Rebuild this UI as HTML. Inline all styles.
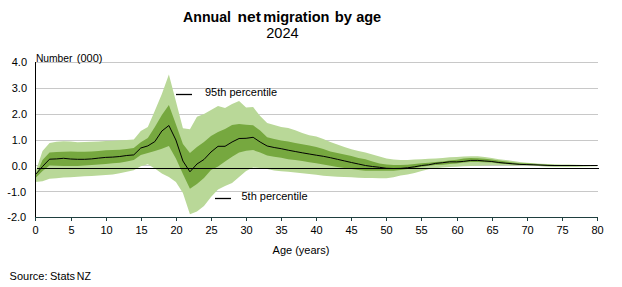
<!DOCTYPE html>
<html><head><meta charset="utf-8"><style>
html,body{margin:0;padding:0;background:#fff;}
body{width:622px;height:287px;overflow:hidden;}
svg{display:block;}
text{font-family:"Liberation Sans",sans-serif;fill:#000;}
</style></head><body>
<svg width="622" height="287" viewBox="0 0 622 287">
<rect width="622" height="287" fill="#fff"/>
<g><line x1="35" y1="62.5" x2="598" y2="62.5" stroke="#c8c8c8" stroke-width="1"/>
<line x1="35" y1="88.5" x2="598" y2="88.5" stroke="#c8c8c8" stroke-width="1"/>
<line x1="35" y1="114.5" x2="598" y2="114.5" stroke="#c8c8c8" stroke-width="1"/>
<line x1="35" y1="140.5" x2="598" y2="140.5" stroke="#c8c8c8" stroke-width="1"/>
<line x1="35" y1="165.5" x2="598" y2="165.5" stroke="#c8c8c8" stroke-width="1"/>
<line x1="35" y1="191.5" x2="598" y2="191.5" stroke="#c8c8c8" stroke-width="1"/>
</g>
<path d="M35.50,172.00 L42.52,151.00 L49.54,143.00 L56.56,141.70 L63.58,141.30 L70.60,141.50 L77.62,142.20 L84.64,142.00 L91.66,141.70 L98.68,141.40 L105.70,141.00 L112.72,140.70 L119.74,140.30 L126.76,139.90 L133.78,139.50 L140.80,131.10 L147.82,127.10 L154.84,110.70 L161.86,94.00 L168.88,74.60 L175.90,101.30 L182.92,128.20 L189.94,129.30 L196.96,116.80 L203.98,114.00 L211.00,110.00 L218.02,106.00 L225.04,108.00 L232.06,104.00 L239.08,101.00 L246.10,107.50 L253.12,107.00 L260.14,116.00 L267.16,123.00 L274.18,125.00 L281.20,127.00 L288.22,128.00 L295.24,130.20 L302.26,133.00 L309.28,135.30 L316.30,136.50 L323.32,139.00 L330.34,142.00 L337.36,144.50 L344.38,147.00 L351.40,149.30 L358.42,151.00 L365.44,152.50 L372.46,154.50 L379.48,156.50 L386.50,158.50 L393.52,159.50 L400.54,160.00 L407.56,160.00 L414.58,159.50 L421.60,159.20 L428.62,158.80 L435.64,158.40 L442.66,158.00 L449.68,157.30 L456.70,157.00 L463.72,156.50 L470.74,156.20 L477.76,156.30 L484.78,157.00 L491.80,158.00 L498.82,159.30 L505.84,160.00 L512.86,161.00 L519.88,162.00 L526.90,162.80 L533.92,163.30 L540.94,163.80 L547.96,164.00 L554.98,164.20 L562.00,164.40 L569.02,164.60 L576.04,164.80 L583.06,165.00 L590.08,165.10 L597.10,165.20 L597.10,166.20 L590.08,166.60 L583.06,166.80 L576.04,166.90 L569.02,166.90 L562.00,166.90 L554.98,166.90 L547.96,166.70 L540.94,166.30 L533.92,165.60 L526.90,165.60 L519.88,165.50 L512.86,165.40 L505.84,165.30 L498.82,165.30 L491.80,165.30 L484.78,165.50 L477.76,165.70 L470.74,166.00 L463.72,166.30 L456.70,166.80 L449.68,167.10 L442.66,167.50 L435.64,168.20 L428.62,169.30 L421.60,171.00 L414.58,173.00 L407.56,174.50 L400.54,175.50 L393.52,177.20 L386.50,178.30 L379.48,178.20 L372.46,178.00 L365.44,178.00 L358.42,177.80 L351.40,177.30 L344.38,177.00 L337.36,176.70 L330.34,176.20 L323.32,175.70 L316.30,174.80 L309.28,173.90 L302.26,173.20 L295.24,172.60 L288.22,171.80 L281.20,171.30 L274.18,170.50 L267.16,169.00 L260.14,168.00 L253.12,167.50 L246.10,171.00 L239.08,177.00 L232.06,183.00 L225.04,186.00 L218.02,189.50 L211.00,197.00 L203.98,206.00 L196.96,211.50 L189.94,214.20 L182.92,193.00 L175.90,182.00 L168.88,177.00 L161.86,173.50 L154.84,168.50 L147.82,164.20 L140.80,166.30 L133.78,170.20 L126.76,171.80 L119.74,173.20 L112.72,174.50 L105.70,175.00 L98.68,175.50 L91.66,175.90 L84.64,176.30 L77.62,176.70 L70.60,177.20 L63.58,177.60 L56.56,178.20 L49.54,178.80 L42.52,181.30 L35.50,182.00 Z" fill="#b9d898"/>
<path d="M35.50,176.00 L42.52,160.00 L49.54,152.40 L56.56,152.10 L63.58,151.70 L70.60,151.40 L77.62,151.70 L84.64,151.70 L91.66,151.50 L98.68,151.00 L105.70,150.30 L112.72,150.00 L119.74,149.80 L126.76,149.10 L133.78,148.00 L140.80,142.30 L147.82,138.00 L154.84,127.10 L161.86,115.00 L168.88,105.00 L175.90,124.30 L182.92,144.00 L189.94,153.00 L196.96,147.00 L203.98,142.00 L211.00,136.00 L218.02,132.00 L225.04,129.00 L232.06,125.00 L239.08,124.00 L246.10,124.70 L253.12,125.30 L260.14,130.50 L267.16,137.30 L274.18,139.00 L281.20,140.50 L288.22,141.50 L295.24,143.00 L302.26,144.20 L309.28,145.50 L316.30,147.00 L323.32,149.00 L330.34,151.50 L337.36,153.00 L344.38,154.50 L351.40,156.00 L358.42,158.00 L365.44,159.30 L372.46,161.50 L379.48,163.50 L386.50,164.50 L393.52,165.00 L400.54,165.00 L407.56,164.70 L414.58,164.00 L421.60,163.20 L428.62,162.80 L435.64,162.00 L442.66,161.50 L449.68,160.50 L456.70,159.70 L463.72,158.50 L470.74,158.00 L477.76,158.20 L484.78,158.80 L491.80,159.50 L498.82,160.50 L505.84,161.50 L512.86,162.50 L519.88,163.30 L526.90,163.30 L533.92,163.80 L540.94,164.20 L547.96,164.80 L554.98,165.00 L562.00,165.10 L569.02,165.10 L576.04,165.10 L583.06,165.10 L590.08,165.10 L597.10,165.10 L597.10,165.90 L590.08,165.90 L583.06,165.90 L576.04,165.90 L569.02,165.90 L562.00,165.90 L554.98,165.90 L547.96,165.90 L540.94,165.40 L533.92,165.20 L526.90,165.00 L519.88,164.80 L512.86,164.50 L505.84,164.00 L498.82,163.40 L491.80,162.60 L484.78,162.30 L477.76,162.00 L470.74,162.00 L463.72,162.50 L456.70,163.50 L449.68,164.00 L442.66,164.70 L435.64,165.00 L428.62,165.80 L421.60,166.80 L414.58,168.00 L407.56,169.00 L400.54,170.00 L393.52,170.70 L386.50,170.70 L379.48,170.70 L372.46,170.70 L365.44,170.70 L358.42,170.00 L351.40,169.00 L344.38,168.00 L337.36,167.00 L330.34,165.70 L323.32,164.50 L316.30,163.20 L309.28,162.30 L302.26,161.00 L295.24,160.00 L288.22,159.30 L281.20,157.80 L274.18,156.80 L267.16,155.50 L260.14,152.50 L253.12,150.10 L246.10,150.80 L239.08,152.50 L232.06,156.80 L225.04,161.50 L218.02,166.50 L211.00,170.00 L203.98,178.00 L196.96,184.00 L189.94,188.80 L182.92,174.00 L175.90,158.60 L168.88,145.90 L161.86,148.70 L154.84,150.90 L147.82,153.00 L140.80,154.90 L133.78,160.10 L126.76,161.60 L119.74,162.80 L112.72,163.20 L105.70,163.90 L98.68,164.50 L91.66,165.00 L84.64,165.50 L77.62,166.00 L70.60,166.10 L63.58,166.00 L56.56,165.80 L49.54,165.60 L42.52,171.00 L35.50,178.00 Z" fill="#76a83f"/>
<line x1="37" y1="168.5" x2="599" y2="168.5" stroke="#000" stroke-width="1.2"/>
<path d="M35.50,174.50 L42.52,166.50 L49.54,159.20 L56.56,158.90 L63.58,158.30 L70.60,159.00 L77.62,159.30 L84.64,159.30 L91.66,158.90 L98.68,158.10 L105.70,157.40 L112.72,157.10 L119.74,156.50 L126.76,155.50 L133.78,154.90 L140.80,148.00 L147.82,145.90 L154.84,141.60 L161.86,131.00 L168.88,125.50 L175.90,140.00 L182.92,161.00 L189.94,171.80 L196.96,164.00 L203.98,159.50 L211.00,152.00 L218.02,146.30 L225.04,146.30 L232.06,142.00 L239.08,138.50 L246.10,138.30 L253.12,137.30 L260.14,142.00 L267.16,146.00 L274.18,147.50 L281.20,148.70 L288.22,150.20 L295.24,151.50 L302.26,152.80 L309.28,154.00 L316.30,155.20 L323.32,156.30 L330.34,157.70 L337.36,159.30 L344.38,160.90 L351.40,162.50 L358.42,164.00 L365.44,165.50 L372.46,166.50 L379.48,167.30 L386.50,168.30 L393.52,168.50 L400.54,168.40 L407.56,167.80 L414.58,166.80 L421.60,165.50 L428.62,164.80 L435.64,163.40 L442.66,162.70 L449.68,161.80 L456.70,161.90 L463.72,161.40 L470.74,160.40 L477.76,160.40 L484.78,161.00 L491.80,161.50 L498.82,162.50 L505.84,163.20 L512.86,163.80 L519.88,164.40 L526.90,164.60 L533.92,164.80 L540.94,165.10 L547.96,165.40 L554.98,165.50 L562.00,165.50 L569.02,165.50 L576.04,165.50 L583.06,165.50 L590.08,165.50 L597.10,165.50" fill="none" stroke="#000" stroke-width="1" stroke-linejoin="miter" stroke-linecap="square"/>
<line x1="35.5" y1="62" x2="35.5" y2="218" stroke="#000" stroke-width="1"/>
<line x1="35" y1="217.5" x2="598" y2="217.5" stroke="#1f3f3f" stroke-width="1.2"/>
<line x1="35.5" y1="217" x2="35.5" y2="221" stroke="#1f3f3f" stroke-width="1"/>
<line x1="71.5" y1="217" x2="71.5" y2="221" stroke="#1f3f3f" stroke-width="1"/>
<line x1="106.5" y1="217" x2="106.5" y2="221" stroke="#1f3f3f" stroke-width="1"/>
<line x1="141.5" y1="217" x2="141.5" y2="221" stroke="#1f3f3f" stroke-width="1"/>
<line x1="176.5" y1="217" x2="176.5" y2="221" stroke="#1f3f3f" stroke-width="1"/>
<line x1="211.5" y1="217" x2="211.5" y2="221" stroke="#1f3f3f" stroke-width="1"/>
<line x1="246.5" y1="217" x2="246.5" y2="221" stroke="#1f3f3f" stroke-width="1"/>
<line x1="281.5" y1="217" x2="281.5" y2="221" stroke="#1f3f3f" stroke-width="1"/>
<line x1="316.5" y1="217" x2="316.5" y2="221" stroke="#1f3f3f" stroke-width="1"/>
<line x1="351.5" y1="217" x2="351.5" y2="221" stroke="#1f3f3f" stroke-width="1"/>
<line x1="386.5" y1="217" x2="386.5" y2="221" stroke="#1f3f3f" stroke-width="1"/>
<line x1="421.5" y1="217" x2="421.5" y2="221" stroke="#1f3f3f" stroke-width="1"/>
<line x1="457.5" y1="217" x2="457.5" y2="221" stroke="#1f3f3f" stroke-width="1"/>
<line x1="492.5" y1="217" x2="492.5" y2="221" stroke="#1f3f3f" stroke-width="1"/>
<line x1="527.5" y1="217" x2="527.5" y2="221" stroke="#1f3f3f" stroke-width="1"/>
<line x1="562.5" y1="217" x2="562.5" y2="221" stroke="#1f3f3f" stroke-width="1"/>
<line x1="597.5" y1="217" x2="597.5" y2="221" stroke="#1f3f3f" stroke-width="1"/>

<g font-size="11"><text x="35.50" y="234" text-anchor="middle">0</text>
<text x="71.50" y="234" text-anchor="middle">5</text>
<text x="106.50" y="234" text-anchor="middle">10</text>
<text x="141.50" y="234" text-anchor="middle">15</text>
<text x="176.50" y="234" text-anchor="middle">20</text>
<text x="211.50" y="234" text-anchor="middle">25</text>
<text x="246.50" y="234" text-anchor="middle">30</text>
<text x="281.50" y="234" text-anchor="middle">35</text>
<text x="316.50" y="234" text-anchor="middle">40</text>
<text x="351.50" y="234" text-anchor="middle">45</text>
<text x="386.50" y="234" text-anchor="middle">50</text>
<text x="421.50" y="234" text-anchor="middle">55</text>
<text x="457.50" y="234" text-anchor="middle">60</text>
<text x="492.50" y="234" text-anchor="middle">65</text>
<text x="527.50" y="234" text-anchor="middle">70</text>
<text x="562.50" y="234" text-anchor="middle">75</text>
<text x="597.50" y="234" text-anchor="middle">80</text>
<text x="27" y="66" text-anchor="end">4.0</text>
<text x="27" y="92" text-anchor="end">3.0</text>
<text x="27" y="118" text-anchor="end">2.0</text>
<text x="27" y="144" text-anchor="end">1.0</text>
<text x="27" y="170" text-anchor="end">0.0</text>
<text x="26.2" y="196" text-anchor="end">-1.0</text>
<text x="26.2" y="221" text-anchor="end">-2.0</text>
</g>
<text x="35.9" y="62" font-size="11" textLength="36.6" lengthAdjust="spacingAndGlyphs">Number</text><text x="76.8" y="62" font-size="11">(000)</text>
<g font-size="14" font-weight="bold"><text x="183" y="22" textLength="48" lengthAdjust="spacingAndGlyphs">Annual</text><text x="237.5" y="22" textLength="23.3" lengthAdjust="spacingAndGlyphs">net</text><text x="263.2" y="22" textLength="66.3" lengthAdjust="spacingAndGlyphs">migration</text><text x="334.8" y="22" textLength="17.2" lengthAdjust="spacingAndGlyphs">by</text><text x="356.2" y="22" textLength="25" lengthAdjust="spacingAndGlyphs">age</text></g>
<text x="266.2" y="38" font-size="14" textLength="32.5" lengthAdjust="spacingAndGlyphs">2024</text>
<text x="301" y="254" font-size="11" text-anchor="middle">Age (years)</text>
<g font-size="11"><text x="9.6" y="280">Source:</text><text x="50" y="280">Stats</text><text x="76.8" y="280" textLength="14.1" lengthAdjust="spacingAndGlyphs">NZ</text></g>
<line x1="176" y1="94.5" x2="192" y2="94.5" stroke="#000" stroke-width="1.3"/>
<text x="205" y="95.5" font-size="11">95th percentile</text>
<line x1="215" y1="198.5" x2="231" y2="198.5" stroke="#000" stroke-width="1.3"/>
<text x="241.5" y="200" font-size="11">5th percentile</text>
</svg>
</body></html>
